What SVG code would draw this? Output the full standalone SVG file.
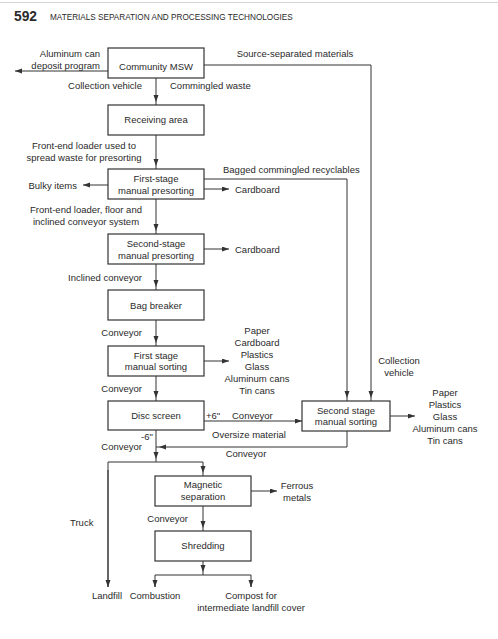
<svg xmlns="http://www.w3.org/2000/svg" width="498" height="639" viewBox="0 0 498 639">
<style>
text{font-family:"Liberation Sans",Arial,sans-serif;font-size:9.5px;fill:#2a2a2a}
.m{text-anchor:middle}
.e{text-anchor:end}
.box{fill:#fff;stroke:#333;stroke-width:1.2}
.c{fill:none;stroke:#333;stroke-width:1}
.hdr{font-size:8.2px}
.num{font-size:13.8px;font-weight:bold}
</style>
<defs>
<marker id="a" markerUnits="userSpaceOnUse" markerWidth="10" markerHeight="8" refX="7" refY="2.5" orient="auto"><path d="M0,0 L7,2.5 L0,5 z" fill="#333"/></marker>
<marker id="b" markerUnits="userSpaceOnUse" markerWidth="12" markerHeight="8" refX="10" refY="2.5" orient="auto"><path d="M0,0 L7,2.5 L0,5 z" fill="#333"/></marker>
</defs>
<rect width="498" height="639" fill="#fff"/>
<line x1="0" y1="2.5" x2="498" y2="2.5" stroke="#d4d4d4" stroke-width="1"/>
<text class="num" x="14" y="21">592</text>
<text class="hdr" x="50" y="20">MATERIALS SEPARATION AND PROCESSING TECHNOLOGIES</text>

<g id="connectors">
<path class="c" d="M108,71 H15" marker-end="url(#a)"/>
<path class="c" d="M204,65 H371 V401" marker-end="url(#b)"/>
<path class="c" d="M156,78 V105" marker-end="url(#b)"/>
<path class="c" d="M156,135 V169" marker-end="url(#b)"/>
<path class="c" d="M108,185 H83" marker-end="url(#a)"/>
<path class="c" d="M204,179 H347 V401" marker-end="url(#b)"/>
<path class="c" d="M204,189 H229" marker-end="url(#a)"/>
<path class="c" d="M156,199 V234" marker-end="url(#b)"/>
<path class="c" d="M204,249 H229" marker-end="url(#a)"/>
<path class="c" d="M156,264 V290" marker-end="url(#b)"/>
<path class="c" d="M156,320 V346" marker-end="url(#b)"/>
<path class="c" d="M204,361 H229" marker-end="url(#a)"/>
<path class="c" d="M156,376 V401" marker-end="url(#b)"/>
<path class="c" d="M204,421 H302" marker-end="url(#a)"/>
<path class="c" d="M390,416 H415" marker-end="url(#a)"/>
<path class="c" d="M347,431 V447 H156" marker-end="url(#b)"/>
<path class="c" d="M156,430 V462" marker-end="url(#b)"/>
<path class="c" d="M108,587 V462 H203 V476" marker-end="url(#b)"/>
<path class="c" d="M108,470 V587" marker-end="url(#a)"/>
<path class="c" d="M251,491 H277" marker-end="url(#a)"/>
<path class="c" d="M203,506 V531" marker-end="url(#b)"/>
<path class="c" d="M203,561 V575" marker-end="url(#b)"/>
<path class="c" d="M155,587 V575 H251 V587" />
<path class="c" d="M155,580 V587" marker-end="url(#a)"/>
<path class="c" d="M251,580 V587" marker-end="url(#a)"/>
</g>

<g id="community-msw"><rect class="box" x="108" y="48" width="96" height="30"/><text class="m" x="156" y="69.5">Community MSW</text></g>
<g id="receiving-area"><rect class="box" x="108" y="105" width="96" height="30"/><text class="m" x="156" y="122.5">Receiving area</text></g>
<g id="first-stage-presorting"><rect class="box" x="108" y="169" width="96" height="30"/><text class="m" x="156" y="181.5">First-stage</text><text class="m" x="156" y="193.5">manual presorting</text></g>
<g id="second-stage-presorting"><rect class="box" x="108" y="234" width="96" height="30"/><text class="m" x="156" y="246.5">Second-stage</text><text class="m" x="156" y="258.5">manual presorting</text></g>
<g id="bag-breaker"><rect class="box" x="108" y="290" width="96" height="30"/><text class="m" x="156" y="308.5">Bag breaker</text></g>
<g id="first-stage-sorting"><rect class="box" x="108" y="346" width="96" height="30"/><text class="m" x="156" y="358.5">First stage</text><text class="m" x="156" y="369.5">manual sorting</text></g>
<g id="disc-screen"><rect class="box" x="108" y="401" width="96" height="29"/><text class="m" x="156" y="418.5">Disc screen</text></g>
<g id="second-stage-sorting"><rect class="box" x="302" y="401" width="88" height="30"/><text class="m" x="346" y="413.5">Second stage</text><text class="m" x="346" y="424.5">manual sorting</text></g>
<g id="magnetic-separation"><rect class="box" x="155" y="476" width="96" height="30"/><text class="m" x="203" y="487.5">Magnetic</text><text class="m" x="203" y="499.5">separation</text></g>
<g id="shredding"><rect class="box" x="155" y="531" width="96" height="30"/><text class="m" x="203" y="548.5">Shredding</text></g>

<g id="labels">
<text class="e" x="100" y="57">Aluminum can</text>
<text class="e" x="100" y="69">deposit program</text>
<text class="m" x="295" y="57">Source-separated materials</text>
<text class="e" x="142" y="89">Collection vehicle</text>
<text x="170" y="89">Commingled waste</text>
<text class="m" x="84" y="148.5">Front-end loader used to</text>
<text class="m" x="84" y="160.5">spread waste for presorting</text>
<text class="e" x="77" y="188.5">Bulky items</text>
<text x="223" y="172.5">Bagged commingled recyclables</text>
<text x="235" y="192.5">Cardboard</text>
<text class="m" x="86" y="212.5">Front-end loader, floor and</text>
<text class="m" x="86" y="224.5">inclined conveyor system</text>
<text x="235" y="252.5">Cardboard</text>
<text class="e" x="142" y="280.5">Inclined conveyor</text>
<text class="e" x="142" y="335.5">Conveyor</text>
<text class="m" x="257" y="333.5">Paper</text>
<text class="m" x="257" y="345.5">Cardboard</text>
<text class="m" x="257" y="357.5">Plastics</text>
<text class="m" x="257" y="369.5">Glass</text>
<text class="m" x="257" y="381.5">Aluminum cans</text>
<text class="m" x="257" y="393.5">Tin cans</text>
<text class="e" x="142" y="391.5">Conveyor</text>
<text x="206" y="418.5">+6"</text>
<text x="232" y="418.5">Conveyor</text>
<text class="m" x="249" y="437.5">Oversize material</text>
<text class="m" x="399" y="363.5">Collection</text>
<text class="m" x="399" y="375.5">vehicle</text>
<text class="m" x="445" y="395.5">Paper</text>
<text class="m" x="445" y="407.5">Plastics</text>
<text class="m" x="445" y="419.5">Glass</text>
<text class="m" x="445" y="431.5">Aluminum cans</text>
<text class="m" x="445" y="443.5">Tin cans</text>
<text class="m" x="147" y="440">-6"</text>
<text class="e" x="142" y="449.5">Conveyor</text>
<text class="m" x="246" y="456.5">Conveyor</text>
<text class="m" x="297" y="488.5">Ferrous</text>
<text class="m" x="297" y="500.5">metals</text>
<text class="e" x="188" y="521.5">Conveyor</text>
<text x="70" y="525.5">Truck</text>
<text class="m" x="107" y="598.5">Landfill</text>
<text class="m" x="155" y="598.5">Combustion</text>
<text class="m" x="251" y="598.5">Compost for</text>
<text class="m" x="251" y="610.5">intermediate landfill cover</text>
</g>
</svg>
